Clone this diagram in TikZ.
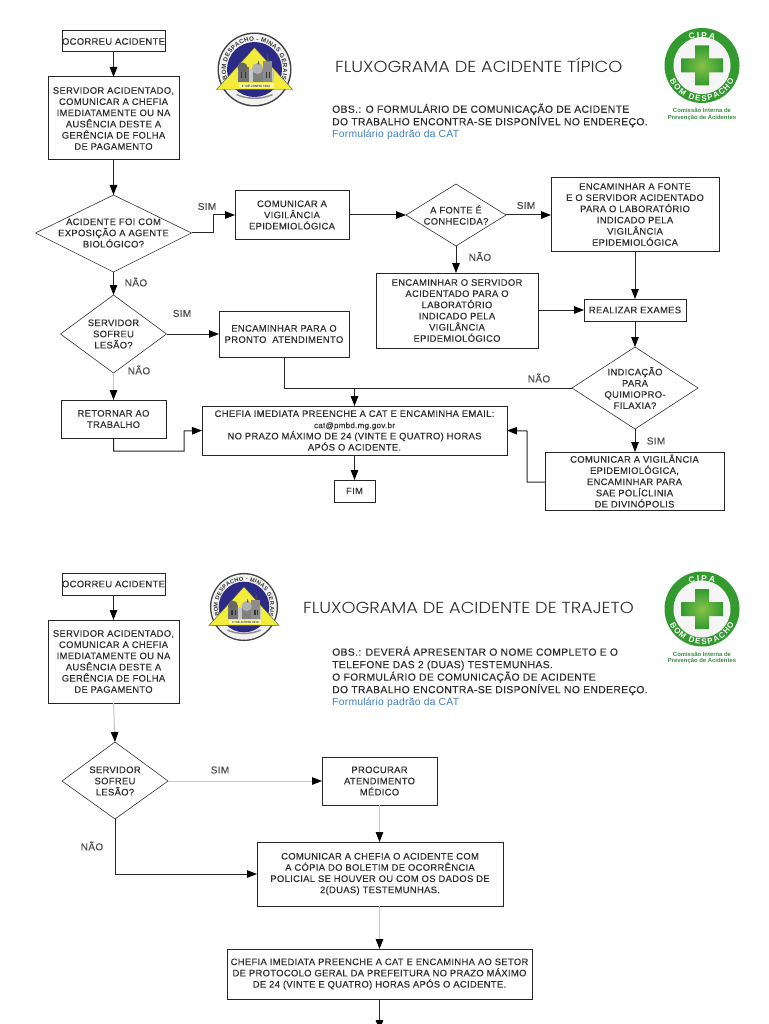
\documentclass[tikz,border=0pt]{standalone}
\usepackage{fontspec}
\setmainfont{Liberation Sans}[LetterSpace=3.6,FakeBold=0.18]
\newfontfamily\titlefont{Poppins Light}[FakeStretch=1.11]
\newfontfamily\plainfont{Liberation Sans}
\newfontfamily\linkfont{Liberation Sans}[LetterSpace=2.5]
\usetikzlibrary{arrows.meta,shapes.geometric,decorations.text}
\definecolor{ink}{HTML}{2E2E2E}
\definecolor{navy}{HTML}{2B2A86}
\definecolor{sun}{HTML}{F4EC3A}
\definecolor{cipa}{HTML}{339A30}
\definecolor{cipal}{HTML}{86C24A}
\definecolor{cipad}{HTML}{3E8A48}
\definecolor{linkb}{HTML}{3F7FC4}
\tikzset{
 x=1pt,y=-1pt,
 txt/.style={font=\fontsize{9.4}{11.2}\selectfont,text=ink,align=center,inner sep=0},
 lbl/.style={font=\fontsize{10}{12}\selectfont,text=ink!85,inner sep=0},
 obs/.style={font=\fontsize{10.35}{12.5}\selectfont,text=ink,align=left,inner sep=0,anchor=north west},
 ttl/.style={font=\titlefont\fontsize{16}{18}\selectfont,text=ink,inner sep=0,anchor=west},
 shp/.style={draw=black!85,line width=1pt},
 tip/.style={-{Triangle[length=10pt,width=7.5pt,black]}},
 arr/.style={draw=black!85,line width=1pt,tip},
 faint/.style={draw=black!22,line width=1pt,tip},
 wire/.style={draw=black!85,line width=1pt},
}
\newcommand{\bx}[6]{\draw[shp] (#2,#3) rectangle (#4,#5);
 \node[txt] (#1) at ({(#2+#4)/2},{(#3+#5)/2}) {#6};
 \coordinate (#1-n) at ({(#2+#4)/2},#3); \coordinate (#1-s) at ({(#2+#4)/2},#5);
 \coordinate (#1-w) at (#2,{(#3+#5)/2}); \coordinate (#1-e) at (#4,{(#3+#5)/2});}
\newcommand{\dm}[7]{\draw[draw=black!80,line width=.6pt] (#2,#6) -- ({(#2+#3)/2},#4) -- (#3,#6) -- ({(#2+#3)/2},#5) -- cycle;
 \node[txt] (#1) at ({(#2+#3)/2},#6) {#7};
 \coordinate (#1-n) at ({(#2+#3)/2},#4); \coordinate (#1-s) at ({(#2+#3)/2},#5);
 \coordinate (#1-w) at (#2,#6); \coordinate (#1-e) at (#3,#6);}
% x, y, scale, ring font size, date font size
\newcommand{\citylogo}[5]{\begin{scope}[shift={(#1,#2)},scale=#3]
 \fill[black!75] (0,0) circle (37);
 \fill[white!95!black] (0,0) circle (35.5);
 \fill[navy] (0,0) circle (27.5);
 \path[decorate,decoration={text along path,text align={fit to path},
   text={|\plainfont\fontsize{#4}{#4}\selectfont\bfseries\color{black!80}|BOM DESPACHO - MINAS GERAIS}}]
   (-26.8,9.7) .. controls (-33.6,-8.9) and (-19.8,-28.5) .. (0,-28.5) .. controls (19.8,-28.5) and (33.6,-8.9) .. (26.8,9.7);
 \fill[sun,draw=black!70,line width=.4pt] (-38,20) -- (0,-22) -- (38,20) -- cycle;
 \fill[black!22] (-17,13) rectangle (19,0);
 \fill[black!55] (-17,13) rectangle (-6,-2);
 \fill[black!45] (8,13) rectangle (17,-8);
 \fill[black!50] (-2,13) rectangle (8,0);
 \fill[black!30] (3,-1) circle (5.5);
 \fill[black!60] (-12,-2) circle (5);
 \fill[black!70] (12.5,-8) -- (12.5,-17) -- (15,-8) -- cycle;
 \fill[black!70] (3,-5) -- (4,-9) -- (5,-5) -- cycle;
 \foreach \wx in {-14,-10,11,14} {\fill[black!80] (\wx,3) rectangle ++(1.5,6);}
 \fill[white!60!sun] (-16,14) rectangle (19,19);
 \node[inner sep=0,text=black!75,font=\plainfont\fontsize{#5}{#5}\selectfont\bfseries] (date#1) at (1.5,16.5) {1º DE JUNHO 1912};
 \draw[black!45,line width=1.4pt] (-18,25) .. controls (-8,30) and (8,30) .. (18,25);
 \end{scope}}
\newcommand{\cipalogo}[2]{\begin{scope}[shift={(#1,#2)}]
 \fill[cipa] (0,0) circle (37.5);
 \fill[white!96!black] (0,0) circle (28.5);
 \shade[inner color=cipal,outer color=cipa]
   (-7,-20) -- (7,-20) -- (7,-7) -- (21,-7) -- (21,7) -- (7,7) -- (7,20) -- (-7,20) -- (-7,7) -- (-21,7) -- (-21,-7) -- (-7,-7) -- cycle;
 \path[decorate,decoration={text along path,text align={fit to path},
   text={|\plainfont\fontsize{8.5}{8.5}\selectfont\bfseries\color{white}|CIPA}}]
   (-12.5,-25.5) .. controls (-8,-28) and (8,-28) .. (12.5,-25.5);
 \path[decorate,decoration={text along path,text align={fit to path},
   text={|\plainfont\fontsize{8}{8}\selectfont\bfseries\color{white}|BOM DESPACHO}}]
   (-32.2,15) .. controls (-19.5,42.3) and (19.5,42.3) .. (32.2,15);
 \node[inner sep=0,align=center,text=cipad,font=\plainfont\fontsize{5.9}{6.4}\selectfont\bfseries] (caption#1#2) at (0,49) {Comissão Interna de\\Prevenção de Acidentes};
 \end{scope}}
\begin{document}
\begin{tikzpicture}
\useasboundingbox (0,0) rectangle (768,1024);
\fill[white] (0,0) rectangle (768,1024);
\citylogo{254.5}{69.5}{1}{6.2}{3.2}
\citylogo{244}{607}{0.92}{5.7}{3}
\cipalogo{702}{65.5}
\cipalogo{702}{609}
\node[ttl] (t1) at (335,65) {FLUXOGRAMA DE ACIDENTE TÍPICO};
\node[ttl] (t2) at (303,608) {FLUXOGRAMA DE ACIDENTE DE TRAJETO};
\node[obs] (o1) at (332,103.5) {OBS.: O FORMULÁRIO DE COMUNICAÇÃO DE ACIDENTE\\DO TRABALHO ENCONTRA-SE DISPONÍVEL NO ENDEREÇO.\\\textcolor{linkb}{\linkfont Formulário padrão da CAT}};
\node[obs] (o2) at (332,646.5) {OBS.: DEVERÁ APRESENTAR O NOME COMPLETO E O\\TELEFONE DAS 2 (DUAS) TESTEMUNHAS.\\O FORMULÁRIO DE COMUNICAÇÃO DE ACIDENTE\\DO TRABALHO ENCONTRA-SE DISPONÍVEL NO ENDEREÇO.\\\textcolor{linkb}{\linkfont Formulário padrão da CAT}};
% top chart
\bx{a}{62}{31}{165}{52}{OCORREU ACIDENTE}
\bx{b}{48}{77}{179}{160}{SERVIDOR ACIDENTADO,\\COMUNICAR A CHEFIA\\IMEDIATAMENTE OU NA\\AUSÊNCIA DESTE A\\GERÊNCIA DE FOLHA\\DE PAGAMENTO}
\dm{c}{35.5}{191.5}{195}{272}{233}{ACIDENTE FOI COM\\EXPOSIÇÃO A AGENTE\\BIOLÓGICO?}
\bx{d}{235}{191}{349}{239}{COMUNICAR A\\VIGILÂNCIA\\EPIDEMIOLÓGICA}
\dm{e}{406}{506}{184}{246}{215}{A FONTE É\\CONHECIDA?}
\bx{f}{551}{178}{719}{251}{ENCAMINHAR A FONTE\\E O SERVIDOR ACIDENTADO\\PARA O LABORATÓRIO\\INDICADO PELA\\VIGILÂNCIA\\EPIDEMIOLÓGICA}
\bx{g}{376}{273}{538}{348}{ENCAMINHAR O SERVIDOR\\ACIDENTADO PARA O\\LABORATÓRIO\\INDICADO PELA\\VIGILÂNCIA\\EPIDEMIOLÓGICO}
\bx{h}{584}{299}{686}{321}{REALIZAR EXAMES}
\dm{i}{572}{698}{347}{429}{388}{INDICAÇÃO\\PARA\\QUIMIOPRO-\\FILAXIA?}
\bx{j}{545}{452}{724}{510}{COMUNICAR A VIGILÂNCIA\\EPIDEMIOLÓGICA,\\ENCAMINHAR PARA\\SAE POLÍCLINIA\\DE DIVINÓPOLIS}
\dm{k}{60.5}{166.5}{295}{373}{334}{SERVIDOR\\SOFREU\\LESÃO?}
\bx{l}{219}{311}{349}{357}{ENCAMINHAR PARA O\\PRONTO\ \ ATENDIMENTO}
\bx{m}{61}{400}{166}{438}{RETORNAR AO\\TRABALHO}
\bx{n}{202}{406}{507}{455}{CHEFIA IMEDIATA PREENCHE A CAT E ENCAMINHA EMAIL:\\{\fontsize{8}{11.2}\selectfont cat@pmbd.mg.gov.br}\\NO PRAZO MÁXIMO DE 24 (VINTE E QUATRO) HORAS\\APÓS O ACIDENTE.}
\bx{q}{334}{480}{375}{502}{FIM}
\draw[arr] (a-s) -- (b-n);
\draw[arr] (b-s) -- (c-n);
\draw[arr] (c-e) -- (213,233) -- (213,215) -- (d-w);
\draw[arr] (d-e) -- (e-w);
\draw[arr] (e-e) -- (f-w |- e-e);
\draw[arr] (e-s) -- (e-s |- g-n);
\draw[arr] (f-s) -- (h-n);
\draw[arr] (g-e |- h-w) -- (h-w);
\draw[arr] (h-s) -- (i-n);
\draw[arr] (i-s) -- (i-s |- j-n);
\draw[wire] (i-w) -- (284,388) -- (284,357);
\coordinate (nt) at (n-n |- i-w);
\draw[arr] (nt) -- (n-n);
\draw[arr] (c-s) -- (k-n);
\draw[arr] (k-e) -- (l-w |- k-e);
\draw[faint] (k-s) -- (m-n);
\draw[arr] (m-s) -- (113.5,451) -- (184,451) -- (184,431) -- (n-w);
\draw[arr] (j-w |- 0,482) -- (527,482) -- (527,431) -- (n-e);
\draw[arr] (n-s) -- (q-n);
\node[lbl] (s1) at (207,206.5) {SIM};
\node[lbl] (s2) at (526,205.5) {SIM};
\node[lbl] (s3) at (182,313.5) {SIM};
\node[lbl] (s4) at (656,441) {SIM};
\node[lbl] (n1) at (136,282) {NÃO};
\node[lbl] (n2) at (480,256.5) {NÃO};
\node[lbl] (n3) at (139,370) {NÃO};
\node[lbl] (n4) at (539,378) {NÃO};
% bottom chart
\bx{A}{62}{573}{165}{595}{OCORREU ACIDENTE}
\bx{B}{48}{620}{179}{703}{SERVIDOR ACIDENTADO,\\COMUNICAR A CHEFIA\\IMEDIATAMENTE OU NA\\AUSÊNCIA DESTE A\\GERÊNCIA DE FOLHA\\DE PAGAMENTO}
\dm{C}{62}{168}{742}{819}{781}{SERVIDOR\\SOFREU\\LESÃO?}
\bx{D}{322}{757}{437}{805}{PROCURAR\\ATENDIMENTO\\MÉDICO}
\bx{E}{257}{842}{503}{906}{COMUNICAR A CHEFIA O ACIDENTE COM\\A CÓPIA DO BOLETIM DE OCORRÊNCIA\\POLICIAL SE HOUVER OU COM OS DADOS DE\\2(DUAS) TESTEMUNHAS.}
\bx{F}{227}{949}{532}{999}{CHEFIA IMEDIATA PREENCHE A CAT E ENCAMINHA AO SETOR\\DE PROTOCOLO GERAL DA PREFEITURA NO PRAZO MÁXIMO\\DE 24 (VINTE E QUATRO) HORAS APÓS O ACIDENTE.}
\coordinate (end) at (379.5,1030);
\draw[arr] (A-s) -- (B-n);
\draw[faint] (B-s) -- (C-n);
\draw[faint] (C-e) -- (D-w |- C-e);
\draw[faint] (D-s) -- (D-s |- E-n);
\draw[faint] (D-s |- E-s) -- (F-n);
\draw[wire,tip] (C-s) -- (115,874) -- (E-w);
\draw[arr] (F-s) -- (end);
\node[lbl] (S5) at (220,770) {SIM};
\node[lbl] (N5) at (92,846) {NÃO};
\end{tikzpicture}
\end{document}
